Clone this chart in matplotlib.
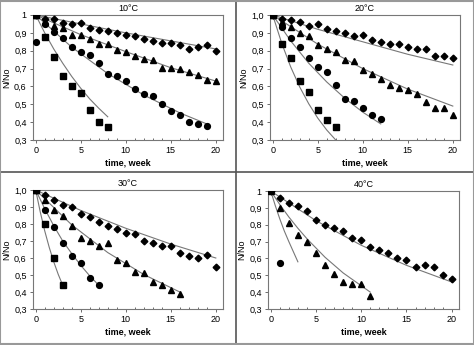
import matplotlib
matplotlib.use('Agg')
import matplotlib.pyplot as plt
from matplotlib.ticker import MultipleLocator, FuncFormatter
from matplotlib.lines import Line2D

plt.rcParams['font.family'] = ['Liberation Sans', 'DejaVu Sans']

# ---- data ----
titles = ['10°C', '20°C', '30°C', '40°C']

# 10 C
p1_diam = [1.0, 0.98, 0.975, 0.955, 0.95, 0.955, 0.925, 0.915, 0.91, 0.90, 0.89,
           0.885, 0.865, 0.855, 0.845, 0.845, 0.83, 0.81, 0.82, 0.83, 0.80]
p1_tri = [1.0, 0.96, 0.94, 0.925, 0.89, 0.89, 0.865, 0.84, 0.84, 0.805, 0.795,
          0.77, 0.755, 0.75, 0.705, 0.705, 0.695, 0.68, 0.665, 0.635, 0.63]
p1_circ = [1.0, 0.95, 0.905, 0.87, 0.82, 0.795, 0.775, 0.73, 0.67, 0.66, 0.63,
           0.585, 0.555, 0.545, 0.50, 0.46, 0.44, 0.40, 0.39, 0.38]
p1_sq = [1.0, 0.875, 0.765, 0.66, 0.605, 0.565, 0.47, 0.40, 0.375]
p1_extra = [0.85]
p1_fit_diam = ([0, 5, 10, 15, 20], [1.0, 0.95, 0.90, 0.855, 0.81])
p1_fit_tri = ([0, 5, 10, 15, 20], [1.0, 0.89, 0.795, 0.705, 0.63])
p1_fit_circ = ([0, 4, 8, 12, 16, 19], [1.0, 0.82, 0.672, 0.552, 0.452, 0.39])
p1_fit_sq = ([0, 1, 2, 3, 4, 5, 6, 7, 8], [1.0, 0.90, 0.81, 0.73, 0.656, 0.59, 0.53, 0.478, 0.43])

# 20 C
p2_diam = [1.0, 0.98, 0.97, 0.96, 0.94, 0.95, 0.92, 0.91, 0.90, 0.88, 0.89,
           0.86, 0.85, 0.84, 0.84, 0.82, 0.81, 0.81, 0.77, 0.77, 0.76]
p2_tri = [1.0, 0.96, 0.93, 0.90, 0.88, 0.83, 0.81, 0.79, 0.75, 0.74, 0.69,
          0.67, 0.64, 0.61, 0.59, 0.58, 0.56, 0.51, 0.48, 0.48, 0.44]
p2_circ = [1.0, 0.93, 0.87, 0.82, 0.76, 0.71, 0.68, 0.61, 0.53, 0.52, 0.48, 0.44, 0.42]
p2_sq = [1.0, 0.84, 0.76, 0.63, 0.57, 0.47, 0.41, 0.37]
p2_fit_diam = ([0, 5, 10, 15, 20], [1.0, 0.92, 0.85, 0.78, 0.72])
p2_fit_tri = ([0, 5, 10, 15, 20], [1.0, 0.837, 0.70, 0.585, 0.49])
p2_fit_circ = ([0, 2, 4, 6, 8, 10, 12], [1.0, 0.855, 0.73, 0.625, 0.534, 0.456, 0.39])
p2_fit_sq = ([0, 1, 2, 3, 4, 5, 6, 7], [1.0, 0.842, 0.709, 0.597, 0.503, 0.423, 0.356, 0.30])

# 30 C
p3_diam = [1.0, 0.97, 0.94, 0.91, 0.90, 0.86, 0.84, 0.81, 0.79, 0.77, 0.75,
           0.74, 0.70, 0.69, 0.67, 0.67, 0.63, 0.61, 0.60, 0.62, 0.55]
p3_tri = [1.0, 0.94, 0.88, 0.85, 0.79, 0.72, 0.70, 0.67, 0.69, 0.59, 0.57,
          0.52, 0.51, 0.46, 0.44, 0.41, 0.39]
p3_circ = [1.0, 0.88, 0.78, 0.69, 0.61, 0.57, 0.48, 0.44]
p3_sq = [1.0, 0.80, 0.60, 0.44]
p3_fit_diam = ([0, 5, 10, 15, 20], [1.0, 0.88, 0.775, 0.682, 0.60])
p3_fit_tri = ([0, 4, 8, 12, 16], [1.0, 0.795, 0.632, 0.503, 0.40])
p3_fit_circ = ([0, 1, 2, 3, 4, 5, 6, 7], [1.0, 0.89, 0.79, 0.70, 0.626, 0.557, 0.495, 0.44])
p3_fit_sq = ([0, 0.5, 1, 1.5, 2, 2.5, 3], [1.0, 0.872, 0.76, 0.663, 0.578, 0.504, 0.44])

# 40 C
p4_diam = [1.0, 0.96, 0.93, 0.91, 0.88, 0.83, 0.80, 0.78, 0.76, 0.72, 0.71,
           0.67, 0.65, 0.63, 0.60, 0.59, 0.55, 0.56, 0.55, 0.50, 0.48]
p4_tri = [1.0, 0.90, 0.81, 0.74, 0.70, 0.63, 0.56, 0.51, 0.46, 0.45, 0.45, 0.38]
p4_circ = [1.0, 0.57]
p4_fit_diam = ([0, 5, 10, 15, 20], [1.0, 0.824, 0.678, 0.559, 0.46])
p4_fit_tri = ([0, 1, 2, 3, 4, 6, 8, 11], [1.0, 0.92, 0.846, 0.779, 0.717, 0.607, 0.514, 0.40])
p4_fit_circ = ([0, 0.5, 1, 1.5, 2, 2.5, 3], [1.0, 0.914, 0.835, 0.763, 0.70, 0.64, 0.58])

panels = [
    dict(series=[(p1_diam, 'D'), (p1_tri, '^'), (p1_circ, 'o'), (p1_sq, 's')],
         fits=[p1_fit_diam, p1_fit_tri, p1_fit_circ, p1_fit_sq], fmt='short'),
    dict(series=[(p2_diam, 'D'), (p2_tri, '^'), (p2_circ, 'o'), (p2_sq, 's')],
         fits=[p2_fit_diam, p2_fit_tri, p2_fit_circ, p2_fit_sq], fmt='long'),
    dict(series=[(p3_diam, 'D'), (p3_tri, '^'), (p3_circ, 'o'), (p3_sq, 's')],
         fits=[p3_fit_diam, p3_fit_tri, p3_fit_circ, p3_fit_sq], fmt='long'),
    dict(series=[(p4_diam, 'D'), (p4_tri, '^'), (p4_circ, 'o')],
         fits=[p4_fit_diam, p4_fit_tri, p4_fit_circ], fmt='short'),
]

W, H = 474, 345
fig = plt.figure(figsize=(W / 100, H / 100), dpi=100)
fig.patch.set_facecolor('white')

# axes boxes in pixels: left, top, right, bottom
boxes = [(33, 15, 223, 140), (270, 15, 460, 140),
         (33, 190, 223, 309), (268, 191, 459, 309)]


def comma_fmt(style):
    def f(v, pos):
        if style == 'short' and abs(v - 1) < 1e-9:
            return '1'
        return ('%.1f' % v).replace('.', ',')
    return f


mk_size = {'D': 3.4, '^': 4.4, 'o': 4.2, 's': 3.8}

for i, (box, p) in enumerate(zip(boxes, panels)):
    l, t, r, b = box
    ax = fig.add_axes([l / W, 1 - b / H, (r - l) / W, (b - t) / H])
    for y, m in p['series']:
        ax.plot(range(len(y)), y, linestyle='none', marker=m, color='black',
                markersize=mk_size[m], zorder=3)
    for fx, fy in p['fits']:
        ax.plot(fx, fy, color='#777777', lw=0.8, zorder=2)
    if i == 0:
        ax.plot([0], p1_extra, linestyle='none', marker='o', color='black',
                markersize=4.2, zorder=3)
    ax.set_xlim(-0.3, 20.8)
    ax.set_ylim(0.3, 1.0)
    ax.xaxis.set_major_locator(MultipleLocator(5))
    ax.xaxis.set_minor_locator(MultipleLocator(1))
    ax.yaxis.set_major_locator(MultipleLocator(0.1))
    ax.yaxis.set_major_formatter(FuncFormatter(comma_fmt(p['fmt'])))
    ax.tick_params(axis='both', which='major', labelsize=6.5, length=2.5,
                   width=0.6, color='#555555', pad=2)
    ax.tick_params(axis='x', which='minor', direction='in', length=1.5,
                   width=0.6, color='#555555')
    for s in ax.spines.values():
        s.set_color('#777777')
        s.set_linewidth(0.8)
    ax.set_title(titles[i], fontsize=6.5, pad=3)
    ax.set_xlabel('time, week', fontsize=6.5, fontweight='bold', labelpad=2)
    ax.set_ylabel('N/No', fontsize=6.5, labelpad=2)

# panel separators and outer frame
sep = '#555555'
fig.add_artist(Line2D([236 / W, 236 / W], [0, 1], color=sep, lw=1.2))
fig.add_artist(Line2D([0, 1], [1 - 172 / H, 1 - 172 / H], color=sep, lw=1.2))
fig.add_artist(Line2D([0, 1, 1, 0, 0], [0.002, 0.002, 0.998, 0.998, 0.002],
                      color='#999999', lw=1.5))

fig.savefig('out.png', dpi=100)
